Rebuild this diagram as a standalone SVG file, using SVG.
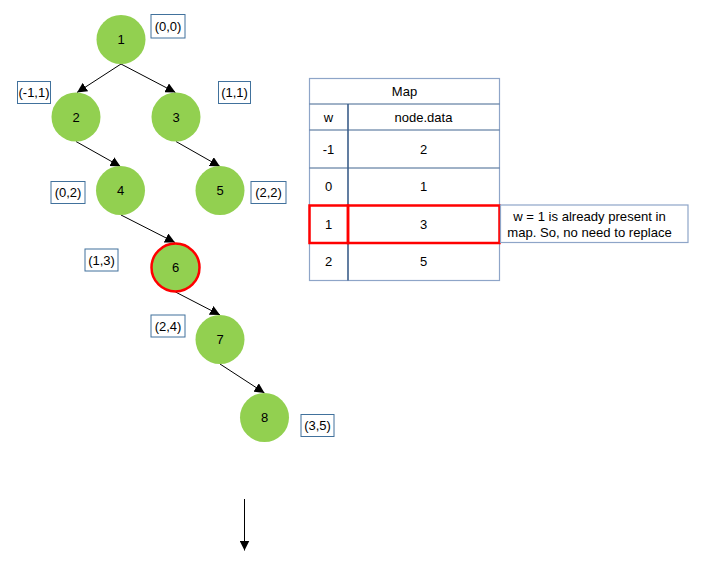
<svg xmlns="http://www.w3.org/2000/svg" width="707" height="573" viewBox="0 0 707 573">
<style>
text{font-family:"Liberation Sans",Arial,sans-serif;font-size:13px;fill:#000;text-anchor:middle;dominant-baseline:central}
.n{fill:#92D050}
.lb{fill:#fff;stroke:#41719C;stroke-width:1}
.e{stroke:#000;stroke-width:1;fill:none;marker-end:url(#ah)}
.tl{stroke:#41658F;stroke-width:1}
</style>
<defs>
<marker id="ah" viewBox="0 0 10 10" refX="10" refY="5" markerWidth="10" markerHeight="10" markerUnits="userSpaceOnUse" orient="auto">
<path d="M0,0 L10,5 L0,10 Z" fill="#000"/>
</marker>
</defs>
<rect width="707" height="573" fill="#fff"/>
<g id="connectors">
<line class="e" x1="121" y1="64" x2="77" y2="92.5"/>
<line class="e" x1="121" y1="64" x2="175.5" y2="92.5"/>
<line class="e" x1="76" y1="141.5" x2="120.5" y2="166.5"/>
<line class="e" x1="176" y1="141.5" x2="220" y2="166.5"/>
<line class="e" x1="121" y1="215" x2="175" y2="242.5"/>
<line class="e" x1="175.5" y1="292" x2="220" y2="315"/>
<line class="e" x1="220" y1="364" x2="264.5" y2="393"/>
<line class="e" x1="244.5" y1="499" x2="244.5" y2="550.5"/>
</g>
<g id="node1"><circle class="n" cx="121" cy="39.5" r="24.5"/><text x="121" y="39.5">1</text></g>
<g id="node2"><circle class="n" cx="76" cy="117" r="24.5"/><text x="76" y="117">2</text></g>
<g id="node3"><circle class="n" cx="176" cy="117" r="24.5"/><text x="176" y="117">3</text></g>
<g id="node4"><circle class="n" cx="120.5" cy="190.5" r="24.5"/><text x="120.5" y="190.5">4</text></g>
<g id="node5"><circle class="n" cx="220" cy="190.5" r="24.5"/><text x="220" y="190.5">5</text></g>
<g id="node6"><circle class="n" cx="175.5" cy="267.5" r="24" stroke="#FF0000" stroke-width="2.5"/><text x="175.5" y="267.5">6</text></g>
<g id="node7"><circle class="n" cx="220" cy="339.5" r="24.5"/><text x="220" y="339.5">7</text></g>
<g id="node8"><circle class="n" cx="264.5" cy="417.5" r="24.5"/><text x="264.5" y="417.5">8</text></g>
<g id="labels">
<g id="l00"><rect class="lb" x="151" y="14.5" width="34" height="23.5"/><text x="168" y="26.5">(0,0)</text></g>
<g id="lm11"><rect class="lb" x="17.5" y="81.5" width="33" height="22"/><text x="34" y="92.5">(-1,1)</text></g>
<g id="l11"><rect class="lb" x="218.5" y="81.5" width="32" height="22"/><text x="234.5" y="92.5">(1,1)</text></g>
<g id="l02"><rect class="lb" x="51" y="181.5" width="34" height="22"/><text x="68" y="192.5">(0,2)</text></g>
<g id="l22"><rect class="lb" x="251" y="181.5" width="35" height="22"/><text x="268.5" y="192.5">(2,2)</text></g>
<g id="l13"><rect class="lb" x="85" y="249" width="33" height="22"/><text x="101.5" y="260">(1,3)</text></g>
<g id="l24"><rect class="lb" x="151" y="315" width="34" height="22"/><text x="168" y="326">(2,4)</text></g>
<g id="l35"><rect class="lb" x="301" y="414.5" width="33" height="22"/><text x="317.5" y="425.5">(3,5)</text></g>
</g>
<g id="map">
<rect x="309.5" y="78.5" width="190" height="202" fill="#fff" stroke="#8EA5C8" stroke-width="1.2"/>
<line class="tl" x1="309.5" y1="104" x2="499.5" y2="104"/>
<line class="tl" x1="309.5" y1="130" x2="499.5" y2="130"/>
<line class="tl" x1="309.5" y1="168" x2="499.5" y2="168"/>
<line class="tl" x1="309.5" y1="243" x2="499.5" y2="243"/>
<line x1="348" y1="104" x2="348" y2="280.5" stroke="#3B5E8A" stroke-width="1.6"/>
<text x="404.5" y="91.5">Map</text>
<text x="328.5" y="117">w</text><text x="423.5" y="117">node.data</text>
<text x="328.5" y="149">-1</text><text x="423.5" y="149">2</text>
<text x="328.5" y="186.5">0</text><text x="423.5" y="186.5">1</text>
<text x="328.5" y="224">1</text><text x="423.5" y="224">3</text>
<text x="328.5" y="261.5">2</text><text x="423.5" y="261.5">5</text>
<rect x="309.5" y="205.5" width="38.5" height="37.5" fill="none" stroke="#FF0000" stroke-width="2.5"/>
<rect x="348" y="205.5" width="151.5" height="37.5" fill="none" stroke="#FF0000" stroke-width="2.5"/>
</g>
<g id="note">
<rect x="500.5" y="205" width="187.5" height="37.5" fill="#fff" stroke="#8EA5C8" stroke-width="1.2"/>
<text x="589.5" y="216.5" style="font-size:13.1px">w = 1 is already present in</text>
<text x="589.5" y="232" style="font-size:13.1px">map. So, no need to replace</text>
</g>
</svg>
